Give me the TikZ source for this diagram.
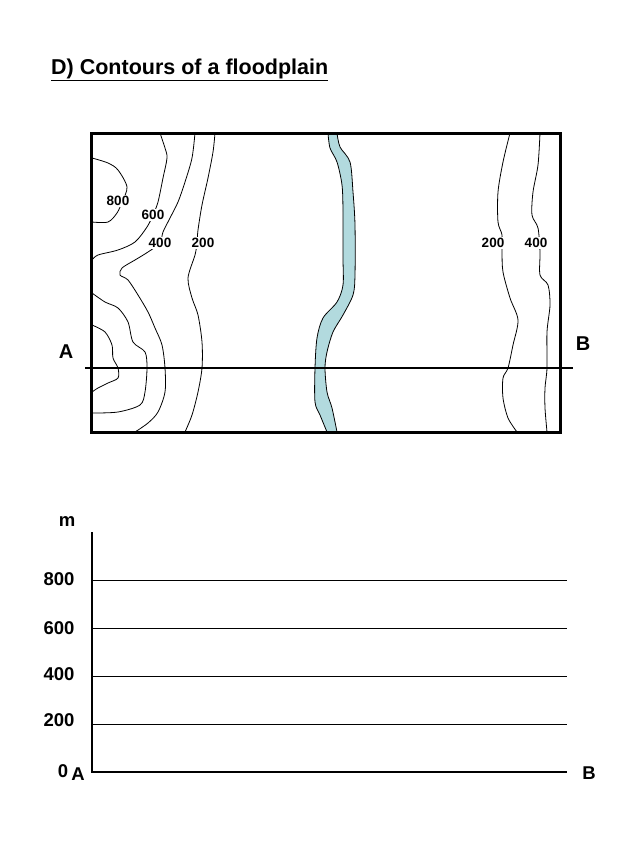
\documentclass[tikz,border=0pt]{standalone}
\usepackage{fontspec}
\setmainfont{Liberation Sans}
\begin{document}
\begin{tikzpicture}[x=1pt,y=-1pt,
  cont/.style={line width=0.8pt,smooth},
  clab/.style={font=\bfseries\fontsize{13.5}{13.5}\selectfont,fill=white,inner sep=1pt},
  big/.style={font=\bfseries\fontsize{20}{20}\selectfont},
  ylab/.style={font=\bfseries\fontsize{18.5}{18.5}\selectfont}]
\useasboundingbox (0,0) rectangle (638,851);
\node[anchor=west,font=\bfseries\fontsize{21.5}{21.5}\selectfont,inner sep=0pt] (title) at (51,70) {\underline{D) Contours of a floodplain}};
% river
\fill[fill={rgb,255:red,178;green,218;blue,222}] plot[smooth] coordinates {(328,133)(330,148)(337,162)(342,185)(343,212)(343,258)(343,285)(337,302)(323,318)(317,338)(315,368)(315,402)(320,415)(327,432)} -- plot[smooth] coordinates {(337,432)(332,408)(327,392)(325,368)(327,352)(333,332)(343,315)(353,295)(355,275)(355,225)(353,192)(350,162)(340,147)(337,133)} -- cycle;
\draw[cont] plot coordinates {(328,133)(330,148)(337,162)(342,185)(343,212)(343,258)(343,285)(337,302)(323,318)(317,338)(315,368)(315,402)(320,415)(327,432)};
\draw[cont] plot coordinates {(337,133)(340,147)(350,162)(353,192)(355,225)(355,275)(353,295)(343,315)(333,332)(327,352)(325,368)(327,392)(332,408)(337,432)};
% left contours
\draw[cont] plot coordinates {(92,158)(108,163)(118,170)(127,187)(122,202)(117,213)(108,222)(92,222)};
\draw[cont] plot coordinates {(160,133)(165,148)(167,158)(163,178)(158,202)(153,215)(147,227)(135,242)(118,250)(98,255)(92,260)};
\draw[cont] plot coordinates {(195,133)(192,158)(185,182)(178,202)(170,218)(163,232)(160,243)(148,252)(135,260)(122,268)(120,275)(128,280)(138,295)(148,312)(155,328)(162,345)(165,368)(165,392)(158,412)(148,423)(135,432)};
\draw[cont] plot coordinates {(215,133)(213,152)(208,178)(202,205)(198,230)(197,243)(195,255)(188,278)(192,298)(198,315)(202,342)(202,368)(198,392)(192,415)(185,432)};
\draw[cont] plot coordinates {(92,293)(105,302)(118,308)(128,322)(133,342)(145,352)(147,368)(145,392)(140,405)(118,412)(92,413)};
\draw[cont] plot coordinates {(92,325)(105,332)(112,345)(113,358)(118,368)(118,378)(108,383)(98,388)(92,392)};
% right contours
\draw[cont] plot coordinates {(510,133)(503,162)(498,192)(498,222)(502,235)(502,252)(503,272)(510,298)(518,320)(513,345)(508,368)(503,378)(503,398)(508,418)(517,432)};
\draw[cont] plot coordinates {(540,133)(538,165)(533,192)(532,215)(538,228)(540,252)(540,275)(548,285)(550,305)(547,332)(547,368)(545,388)(545,408)(547,432)};
\node[clab] (l800) at (118,201) {800};
\node[clab] (l600) at (153,215) {600};
\node[clab] (l400a) at (160,243) {400};
\node[clab] (l200a) at (203,243) {200};
\node[clab] (l200b) at (493,243) {200};
\node[clab] (l400b) at (536,243) {400};
% frame
\draw[line width=3pt] (91,133) rectangle (560,432);
\coordinate (la) at (85,368); \coordinate (lb) at (573,368);
\draw[line width=2.2pt] (la) -- (lb);
\node[big] (A) at (66,352) {A};
\node[big] (B) at (583,344) {B};
% chart
\coordinate (o) at (92,772); \coordinate (yt) at (92,532); \coordinate (xe) at (567,772);
\draw[line width=2.2pt] (yt) -- (o) -- (xe);
\foreach \yy in {580,628,676,724} \draw[line width=0.8pt] (92,\yy) -- (567,\yy);
\node[ylab] (m) at (67,522) {m};
\node[ylab] (y8) at (59,579) {800};
\node[ylab] (y6) at (59,628) {600};
\node[ylab] (y4) at (59,674) {400};
\node[ylab] (y2) at (59,720) {200};
\node[ylab] (y0) at (63,771) {0};
\node[ylab] (cA) at (78,774) {A};
\node[ylab] (cB) at (589,773) {B};
\end{tikzpicture}
\end{document}
